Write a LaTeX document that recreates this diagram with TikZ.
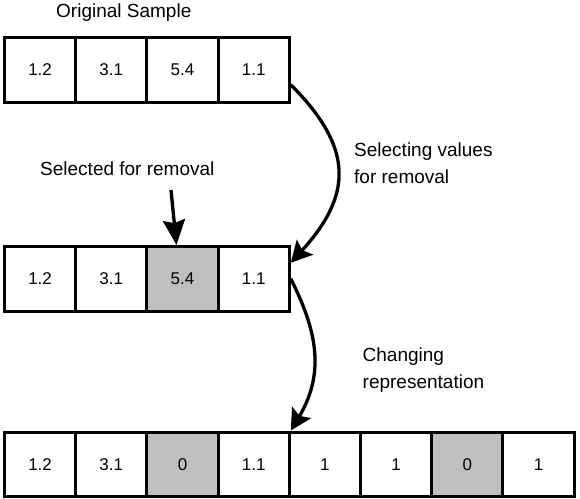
\documentclass[tikz,border=0pt]{standalone}
\usepackage{fontspec}
\setmainfont{Liberation Sans}
\usetikzlibrary{arrows.meta}
\definecolor{cellgrey}{HTML}{BFBFBF}
\begin{document}
\begin{tikzpicture}[x=1pt,y=-1pt,
  cell/.style={draw, line width=3pt, minimum width=71.2pt, minimum height=64.5pt, inner sep=0pt, font=\fontsize{17}{20}\selectfont},
  picked/.style={cell, fill=cellgrey},
  lbl/.style={inner sep=0pt, font=\fontsize{19}{27}\selectfont, align=left},
  flow/.style={line width=3.3pt, -{Stealth[length=21pt,width=22pt,inset=4pt]}},
  pointer/.style={line width=3.3pt, -{Stealth[length=25pt,width=22pt,inset=3pt]}}]
\useasboundingbox (0,0) rectangle (580,498);
% row 1
\node[cell] (a1) at (40.1,69.75) {1.2};
\node[cell] (a2) at (111.3,69.75) {3.1};
\node[cell] (a3) at (182.5,69.75) {5.4};
\node[cell] (a4) at (253.7,69.75) {1.1};
% row 2
\node[cell] (b1) at (40.1,278.75) {1.2};
\node[cell] (b2) at (111.3,278.75) {3.1};
\node[picked] (b3) at (182.5,278.75) {5.4};
\node[cell] (b4) at (253.7,278.75) {1.1};
% row 3
\node[cell] (c1) at (40.1,464.25) {1.2};
\node[cell] (c2) at (111.3,464.25) {3.1};
\node[picked] (c3) at (182.5,464.25) {0};
\node[cell] (c4) at (253.7,464.25) {1.1};
\node[cell] (c5) at (324.9,464.25) {1};
\node[cell] (c6) at (396.1,464.25) {1};
\node[picked] (c7) at (467.3,464.25) {0};
\node[cell] (c8) at (538.5,464.25) {1};
% labels
\node[lbl, anchor=base west] (orig) at (56,17.3) {Original Sample};
\node[lbl, anchor=base west] (sel) at (40,175) {Selected for removal};
\node[lbl, anchor=base west] (selv) at (354,183.5) {Selecting values\\for removal};
\node[lbl, anchor=base west] (chg) at (362.5,388.5) {Changing\\representation};
% arrows
\coordinate (s1) at ([yshift=-15pt]a4.east);
\coordinate (e1) at ([yshift=16pt]b4.east);
\draw[flow] (s1) .. controls +(63,63) and +(62,-68) .. (e1);
\draw[flow] (b4.east) .. controls +(24,48) and +(36,-60) .. (c4.north east);
\coordinate (v0) at (171,190);
\draw[pointer] (v0) -- ([xshift=-6pt]b3.north);
\end{tikzpicture}
\end{document}
